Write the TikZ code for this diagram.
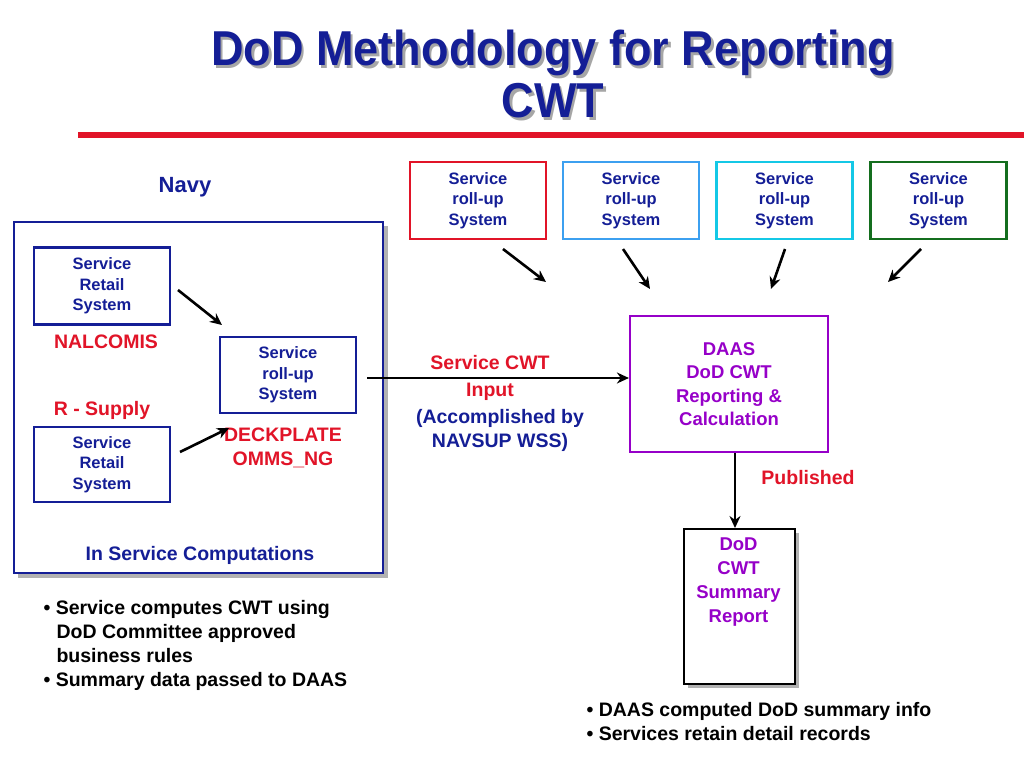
\documentclass[tikz,border=0pt]{standalone}
\usepackage{fontspec}
\setmainfont{Liberation Sans}
\usetikzlibrary{arrows.meta}
\definecolor{dblue}{RGB}{20,30,150}
\definecolor{bred}{RGB}{225,20,40}
\definecolor{lblue}{RGB}{60,160,240}
\definecolor{cyanb}{RGB}{20,200,230}
\definecolor{gr}{RGB}{20,110,30}
\definecolor{purp}{RGB}{150,0,200}
\begin{document}
\begin{tikzpicture}[x=1pt,y=-1pt,
  box/.style={draw,line width=2.2pt,minimum width=136pt,minimum height=77pt,align=center,font=\fontsize{16.5}{20.5}\selectfont\bfseries,text=dblue},
  arr/.style={-{Stealth[length=12pt,width=11pt]},line width=2.6pt},
  lbl/.style={font=\fontsize{19.5}{24}\selectfont\bfseries},
  note/.style={font=\fontsize{19.5}{24}\selectfont\bfseries,align=left,anchor=north west},
  ttl/.style={font=\fontsize{49}{52}\selectfont\bfseries,align=center,xscale=0.92}]
\useasboundingbox (0,0) rectangle (1024,768);
% title
\node[text=gray!70,ttl] at (555.5,76.5) {DoD Methodology for Reporting\\CWT};
\node (title) [text=dblue,ttl] at (553,74) {DoD Methodology for Reporting\\CWT};
\draw[bred,line width=6pt] (78,135) -- (1024,135);
\node (navy) [text=dblue,font=\fontsize{22}{26}\selectfont\bfseries] at (185,187) {Navy};
% big box
\fill[gray!60] (18,226) rectangle (388,578);
\node (big) [draw=dblue,line width=2.2pt,fill=white,minimum width=369pt,minimum height=351pt] at (198.5,397.5) {};
\node (r1) [box,draw=dblue] at (102,286) {Service\\Retail\\System};
\node (r2) [box,draw=dblue,minimum height=75pt] at (102,464.5) {Service\\Retail\\System};
\node (ru) [box,draw=dblue,minimum height=76pt] at (288,375) {Service\\roll-up\\System};
\node (nal) [lbl,text=bred] at (106,342) {NALCOMIS};
\node (rs) [lbl,text=bred] at (102,410) {R - Supply};
\node (dp) [lbl,text=bred,align=center] at (283,448) {DECKPLATE\\OMMS\_NG};
\node (isc) [lbl,text=dblue] at (200,555) {In Service Computations};
\coordinate (a1s) at (178,290); \coordinate (a1e) at (222,325);
\coordinate (a2s) at (180,452); \coordinate (a2e) at (229,428);
\draw[arr] (a1s) -- (a1e);
\draw[arr] (a2s) -- (a2e);
% DAAS
\node (daas) [box,draw=purp,text=purp,minimum width=198pt,minimum height=136pt,font=\fontsize{18.5}{23.5}\selectfont\bfseries] at (729,384) {DAAS\\DoD CWT\\Reporting \&\\Calculation};
\coordinate (in) at (367,378);
\draw[arr] (in) -- (daas.west |- in);
\node (sc) [lbl,text=bred] at (490,363) {Service CWT};
\node (ip) [lbl,text=bred] at (490,392) {Input};
\node (acc) [lbl,text=dblue,align=center] at (500,430) {(Accomplished by\\NAVSUP WSS)};
% top boxes
\node (t1) [box,draw=bred] at (478,200.5) {Service\\roll-up\\System};
\node (t2) [box,draw=lblue] at (631,200.5) {Service\\roll-up\\System};
\node (t3) [box,draw=cyanb] at (784.5,200.5) {Service\\roll-up\\System};
\node (t4) [box,draw=gr] at (938.5,200.5) {Service\\roll-up\\System};
\coordinate (b1) at (503,249); \coordinate (e1) at (546,282);
\coordinate (b2) at (623,249); \coordinate (e2) at (650,289);
\coordinate (b3) at (785,249); \coordinate (e3) at (771,289);
\coordinate (b4) at (921,249); \coordinate (e4) at (888,282);
\foreach \i in {1,2,3,4} \draw[arr] (b\i) -- (e\i);
% report
\fill[gray!60] (688,533) rectangle (799,688);
\node (rep) [box,draw=black,fill=white,minimum width=111pt,minimum height=155pt,anchor=north west] at (683,528) {};
\node (rept) [text=purp,align=center,font=\fontsize{18.5}{24}\selectfont\bfseries,anchor=north] at (738.5,534) {DoD\\CWT\\Summary\\Report};
\draw[arr] (daas.south -| 735,0) -- (rep.north -| 735,0);
\node (pub) [lbl,text=bred] at (808,478) {Published};
% notes
\node (n1) [note] at (40,597) {• Service computes CWT using\\\hspace*{13pt}DoD Committee approved\\\hspace*{13pt}business rules\\• Summary data passed to DAAS};
\node (n2) [note] at (583,699) {• DAAS computed DoD summary info\\• Services retain detail records};
\end{tikzpicture}
\end{document}
